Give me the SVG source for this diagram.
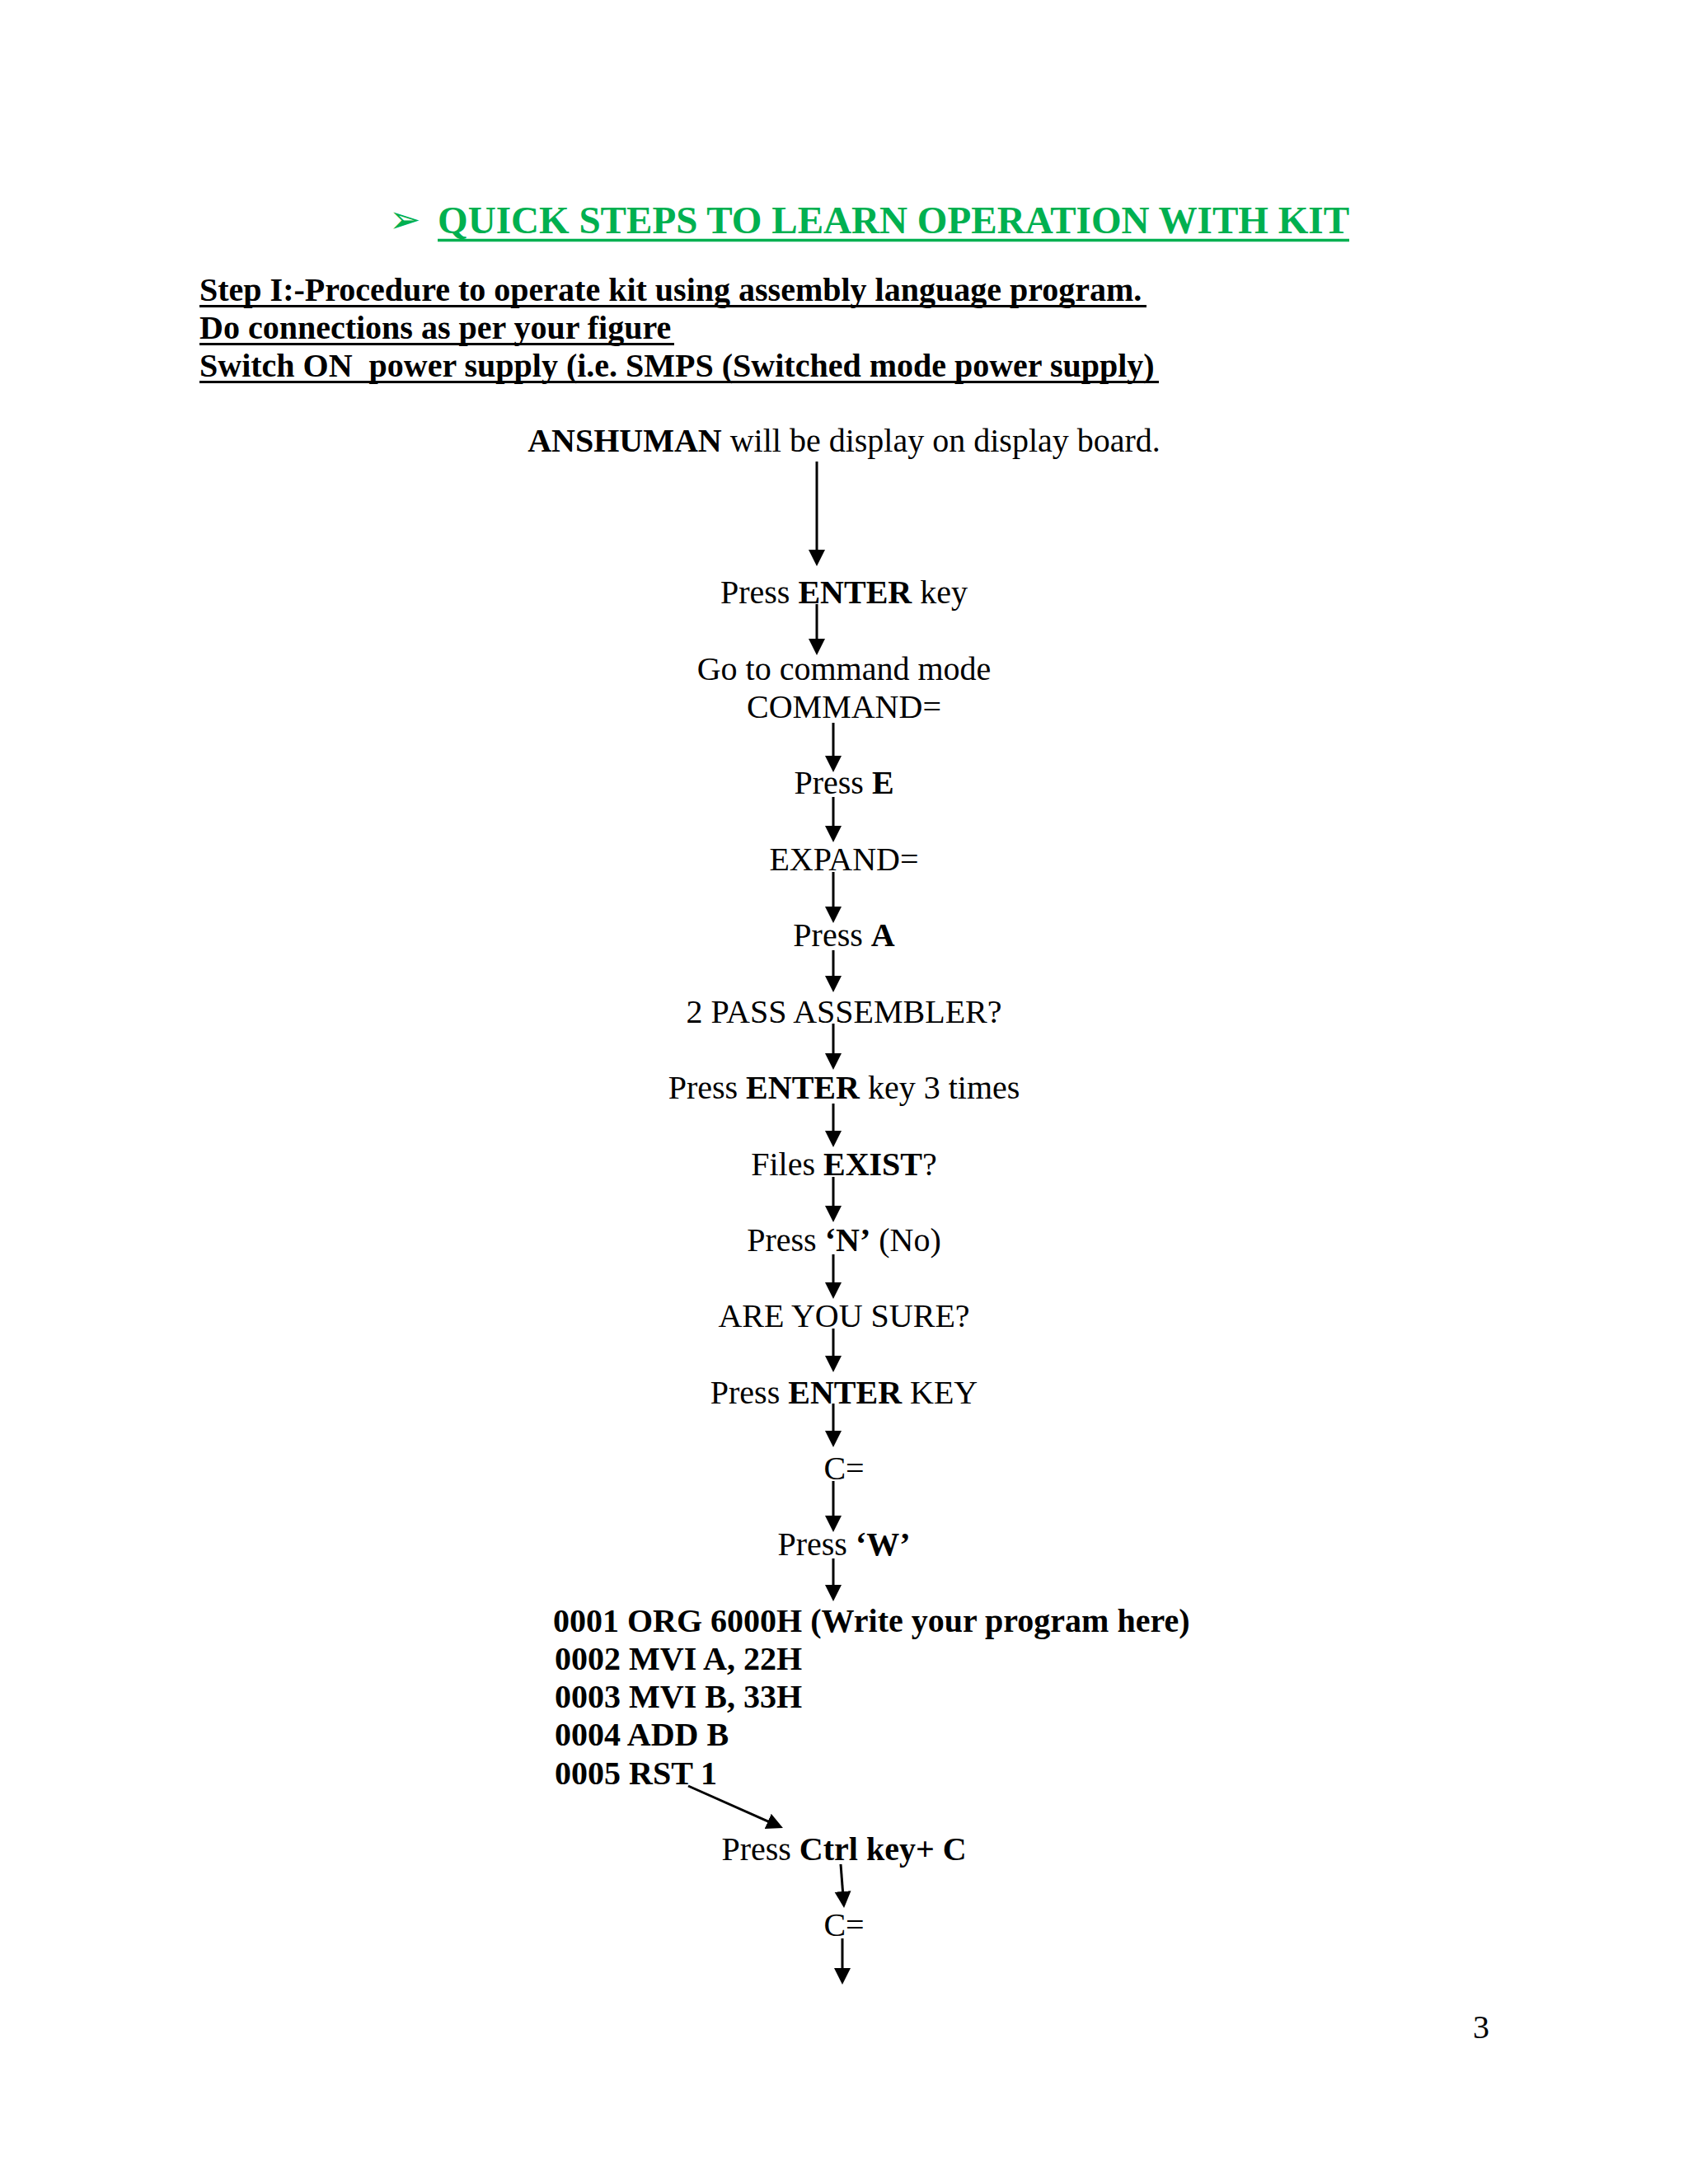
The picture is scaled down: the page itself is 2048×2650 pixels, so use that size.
<svg xmlns="http://www.w3.org/2000/svg" width="2048" height="2650" viewBox="0 0 2048 2650">
<style>
.t{font-family:"Liberation Serif","Times New Roman",serif;font-size:40px;fill:#000}
.c{text-anchor:middle}
.b{font-weight:bold}
.title{font-family:"Liberation Serif","Times New Roman",serif;font-size:47.1px;font-weight:bold;fill:#00B050}
.ul{stroke:#000;stroke-width:3}
.conn line{stroke:#000;stroke-width:3;fill:none}
</style>
<defs>
<marker id="ah" markerUnits="userSpaceOnUse" markerWidth="22" markerHeight="22" refX="9" refY="10" orient="auto" viewBox="0 0 22 22">
<path d="M0,0 L20,10 L0,20 Z" fill="#000"/>
</marker>
</defs>
<rect width="2048" height="2650" fill="#fff"/>

<g id="header">
<text x="472" y="282" style="font-family:'DejaVu Sans',sans-serif;font-size:46px;fill:#00B050">➢</text>
<text class="title" x="531" y="283">QUICK STEPS TO LEARN OPERATION WITH KIT</text>
<line x1="531" y1="291.5" x2="1637" y2="291.5" stroke="#00B050" stroke-width="3.5"/>
<text class="t b" x="242" y="365">Step I:-Procedure to operate kit using assembly language program.</text>
<text class="t b" x="242" y="411">Do connections as per your figure</text>
<text class="t b" x="242" y="457" xml:space="preserve">Switch ON  power supply (i.e. SMPS (Switched mode power supply)</text>
<line class="ul" x1="242" y1="371.5" x2="1391" y2="371.5"/>
<line class="ul" x1="242" y1="417.5" x2="818" y2="417.5"/>
<line class="ul" x1="242" y1="463.5" x2="1406" y2="463.5"/>
</g>

<g id="n1"><text class="t c" x="1024" y="548"><tspan class="b">ANSHUMAN</tspan> will be display on display board.</text></g>
<g id="n2"><text class="t c" x="1024" y="732">Press <tspan class="b">ENTER</tspan> key</text></g>
<g id="n3"><text class="t c" x="1024" y="825">Go to command mode</text><text class="t c" x="1024" y="871">COMMAND=</text></g>
<g id="n4"><text class="t c" x="1024" y="963">Press <tspan class="b">E</tspan></text></g>
<g id="n5"><text class="t c" x="1024" y="1056">EXPAND=</text></g>
<g id="n6"><text class="t c" x="1024" y="1148">Press <tspan class="b">A</tspan></text></g>
<g id="n7"><text class="t c" x="1024" y="1241">2 PASS ASSEMBLER?</text></g>
<g id="n8"><text class="t c" x="1024" y="1333">Press <tspan class="b">ENTER</tspan> key 3 times</text></g>
<g id="n9"><text class="t c" x="1024" y="1426">Files <tspan class="b">EXIST</tspan>?</text></g>
<g id="n10"><text class="t c" x="1024" y="1518">Press <tspan class="b">‘N’</tspan> (No)</text></g>
<g id="n11"><text class="t c" x="1024" y="1610">ARE YOU SURE?</text></g>
<g id="n12"><text class="t c" x="1024" y="1703">Press <tspan class="b">ENTER</tspan> KEY</text></g>
<g id="n13"><text class="t c" x="1024" y="1795">C=</text></g>
<g id="n14"><text class="t c" x="1024" y="1887">Press <tspan class="b">‘W’</tspan></text></g>
<g id="n15">
<text class="t b" x="671" y="1980">0001 ORG 6000H (Write your program here)</text>
<text class="t b" x="673" y="2026">0002 MVI A, 22H</text>
<text class="t b" x="673" y="2072">0003 MVI B, 33H</text>
<text class="t b" x="673" y="2118">0004 ADD B</text>
<text class="t b" x="673" y="2165">0005 RST 1</text>
</g>
<g id="n16"><text class="t c" x="1024" y="2257">Press <tspan class="b">Ctrl key+ C</tspan></text></g>
<g id="n17"><text class="t c" x="1024" y="2349">C=</text></g>
<g id="pagenum"><text class="t" x="1787" y="2473">3</text></g>

<g id="connectors" class="conn">
<line x1="991" y1="560" x2="991" y2="676" marker-end="url(#ah)"/>
<line x1="991" y1="733" x2="991" y2="784" marker-end="url(#ah)"/>
<line x1="1011" y1="877" x2="1011" y2="926" marker-end="url(#ah)"/>
<line x1="1011" y1="967" x2="1011" y2="1011" marker-end="url(#ah)"/>
<line x1="1011" y1="1058" x2="1011" y2="1109" marker-end="url(#ah)"/>
<line x1="1011" y1="1153" x2="1011" y2="1193" marker-end="url(#ah)"/>
<line x1="1011" y1="1242" x2="1011" y2="1287" marker-end="url(#ah)"/>
<line x1="1011" y1="1339" x2="1011" y2="1381" marker-end="url(#ah)"/>
<line x1="1011" y1="1428" x2="1011" y2="1472" marker-end="url(#ah)"/>
<line x1="1011" y1="1522" x2="1011" y2="1565" marker-end="url(#ah)"/>
<line x1="1011" y1="1612" x2="1011" y2="1654" marker-end="url(#ah)"/>
<line x1="1011" y1="1703" x2="1011" y2="1745" marker-end="url(#ah)"/>
<line x1="1011" y1="1797" x2="1011" y2="1848" marker-end="url(#ah)"/>
<line x1="1011" y1="1891" x2="1011" y2="1932" marker-end="url(#ah)"/>
<line x1="835" y1="2167" x2="939.9" y2="2213.6" marker-end="url(#ah)"/>
<line x1="1020" y1="2262" x2="1023.2" y2="2304" marker-end="url(#ah)"/>
<line x1="1022" y1="2352" x2="1022" y2="2397" marker-end="url(#ah)"/>
</g>
</svg>
